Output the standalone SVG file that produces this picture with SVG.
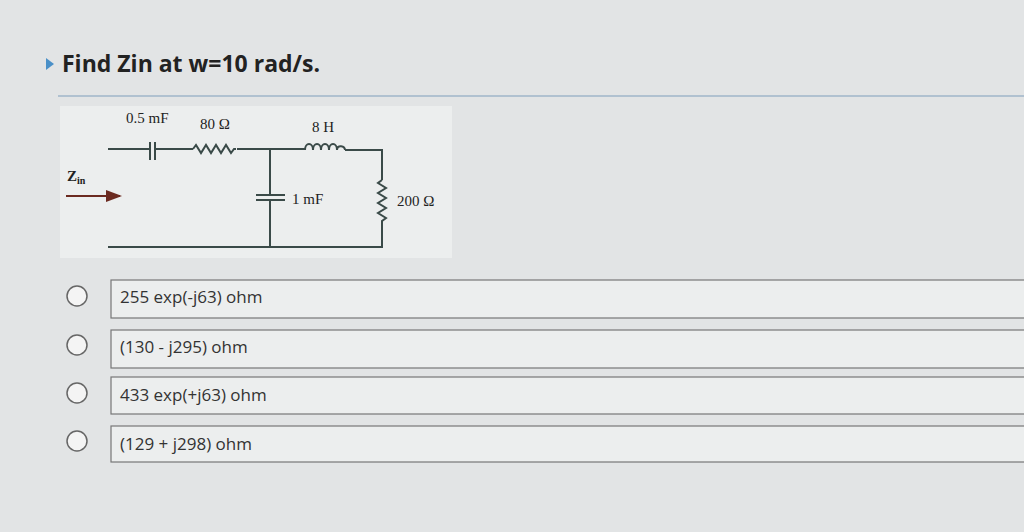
<svg xmlns="http://www.w3.org/2000/svg" width="1024" height="532" viewBox="0 0 1024 532">
<style>
.w{fill:none;stroke:#3a4a48;stroke-width:2}
.s{font-family:"Liberation Serif",serif;font-size:15px;fill:#222}
.a{font-family:"Open Sans",sans-serif;font-size:17px;fill:#333}
.box{fill:#eceeee;stroke:#777;stroke-width:1.2}
.rad{fill:#f4f4f4;stroke:#666;stroke-width:1.5}
</style>
<defs><marker id="ar" markerWidth="8" markerHeight="8" refX="7" refY="4" orient="auto"><path d="M0,1 L8,4 L0,7z" fill="#6b2a20"/></marker></defs>
<rect width="1024" height="532" fill="#e2e4e5"/>
<path d="M46,58 L54,64 L46,70z" fill="#4a90c8"/>
<text x="62" y="72" font-family="Open Sans,sans-serif" font-weight="bold" font-size="23" fill="#222">Find Zin at w=10 rad/s.</text>
<line x1="58" y1="96" x2="1024" y2="96" stroke="#9fb6c8" stroke-width="1.5"/>
<rect x="60" y="106" width="392" height="152" fill="#eceeee"/>
<g id="circuit">
<g id="wires" class="w">
<path d="M108,149 H150 M155,149 H193 M237,149 H305 M345,150 H382 V180 M382,223 V247 H108"/>
<path d="M270,149 V195 M270,200 V247"/>
</g>
<g id="c1"><path class="w" d="M150,142 V160 M155,142 V160"/><text class="s" x="126" y="123">0.5 mF</text></g>
<g id="r1"><path class="w" d="M193,149 l3,-4 l5,8 l5,-8 l5,8 l5,-8 l5,8 l5,-8 l5,8 l3,-4 h2"/><text class="s" x="200" y="129">80 Ω</text></g>
<g id="l1"><path class="w" d="M305,150 c0,-8 8,-8 8,0 c0,-8 8,-8 8,0 c0,-8 8,-8 8,0 c0,-8 8,-8 8,0 c0,-6 8,-4 8,0"/><text class="s" x="312" y="132">8 H</text></g>
<g id="c2"><path class="w" d="M256,195 H285 M256,200 H285"/><text class="s" x="292" y="204">1 mF</text></g>
<g id="r2"><path class="w" d="M382,180 l-4,3 l8,5 l-8,5 l8,5 l-8,5 l8,5 l-8,5 l8,5 l-4,3 v2"/><text class="s" x="397" y="206">200 Ω</text></g>
<g id="zin"><text class="s" x="67" y="181" font-weight="bold">Z<tspan font-size="10" dy="3">in</tspan></text>
<line x1="66" y1="196" x2="120" y2="196" stroke="#6b2a20" stroke-width="2" marker-end="url(#ar)"/></g>
</g>
<g id="answers">
<circle class="rad" cx="77" cy="296" r="10"/><rect class="box" x="111" y="280" width="920" height="38"/><text class="a" x="120" y="303">255 exp(-j63) ohm</text>
<circle class="rad" cx="77" cy="345" r="10"/><rect class="box" x="111" y="330" width="920" height="38"/><text class="a" x="120" y="353">(130 - j295) ohm</text>
<circle class="rad" cx="77" cy="393" r="10"/><rect class="box" x="111" y="377" width="920" height="37"/><text class="a" x="120" y="401">433 exp(+j63) ohm</text>
<circle class="rad" cx="77" cy="441" r="10"/><rect class="box" x="111" y="426" width="920" height="36"/><text class="a" x="120" y="450">(129 + j298) ohm</text>
</g>
</svg>
